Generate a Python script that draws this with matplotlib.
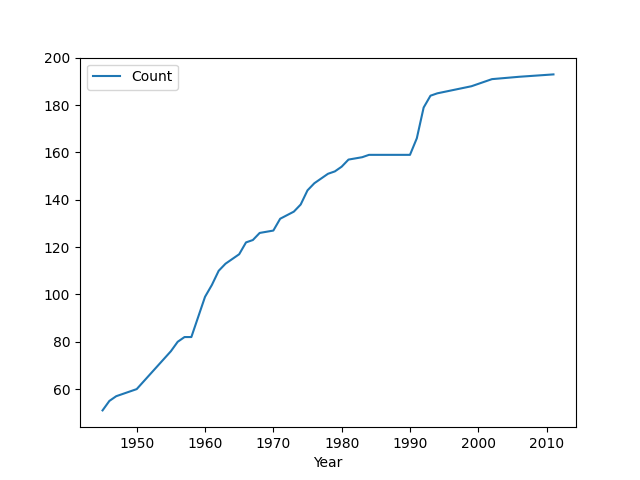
import matplotlib
matplotlib.use("Agg")
import pandas as pd
import matplotlib.pyplot as plt

years = [1945, 1946, 1947, 1948, 1949, 1950, 1955, 1956, 1957, 1958, 1960, 1961,
         1962, 1963, 1964, 1965, 1966, 1967, 1968, 1970, 1971, 1973, 1974, 1975,
         1976, 1977, 1978, 1979, 1980, 1981, 1983, 1984, 1990, 1991, 1992, 1993,
         1994, 1999, 2000, 2002, 2006, 2011]
counts = [51, 55, 57, 58, 59, 60, 76, 80, 82, 82, 99, 104,
          110, 113, 115, 117, 122, 123, 126, 127, 132, 135, 138, 144,
          147, 149, 151, 152, 154, 157, 158, 159, 159, 166, 179, 184,
          185, 188, 189, 191, 192, 193]

df = pd.DataFrame({"Year": years, "Count": counts}).set_index("Year")

fig, ax = plt.subplots(figsize=(6.4, 4.8), dpi=100)
df.plot(ax=ax)
ax.legend(loc="upper left")
plt.savefig("out.png")
